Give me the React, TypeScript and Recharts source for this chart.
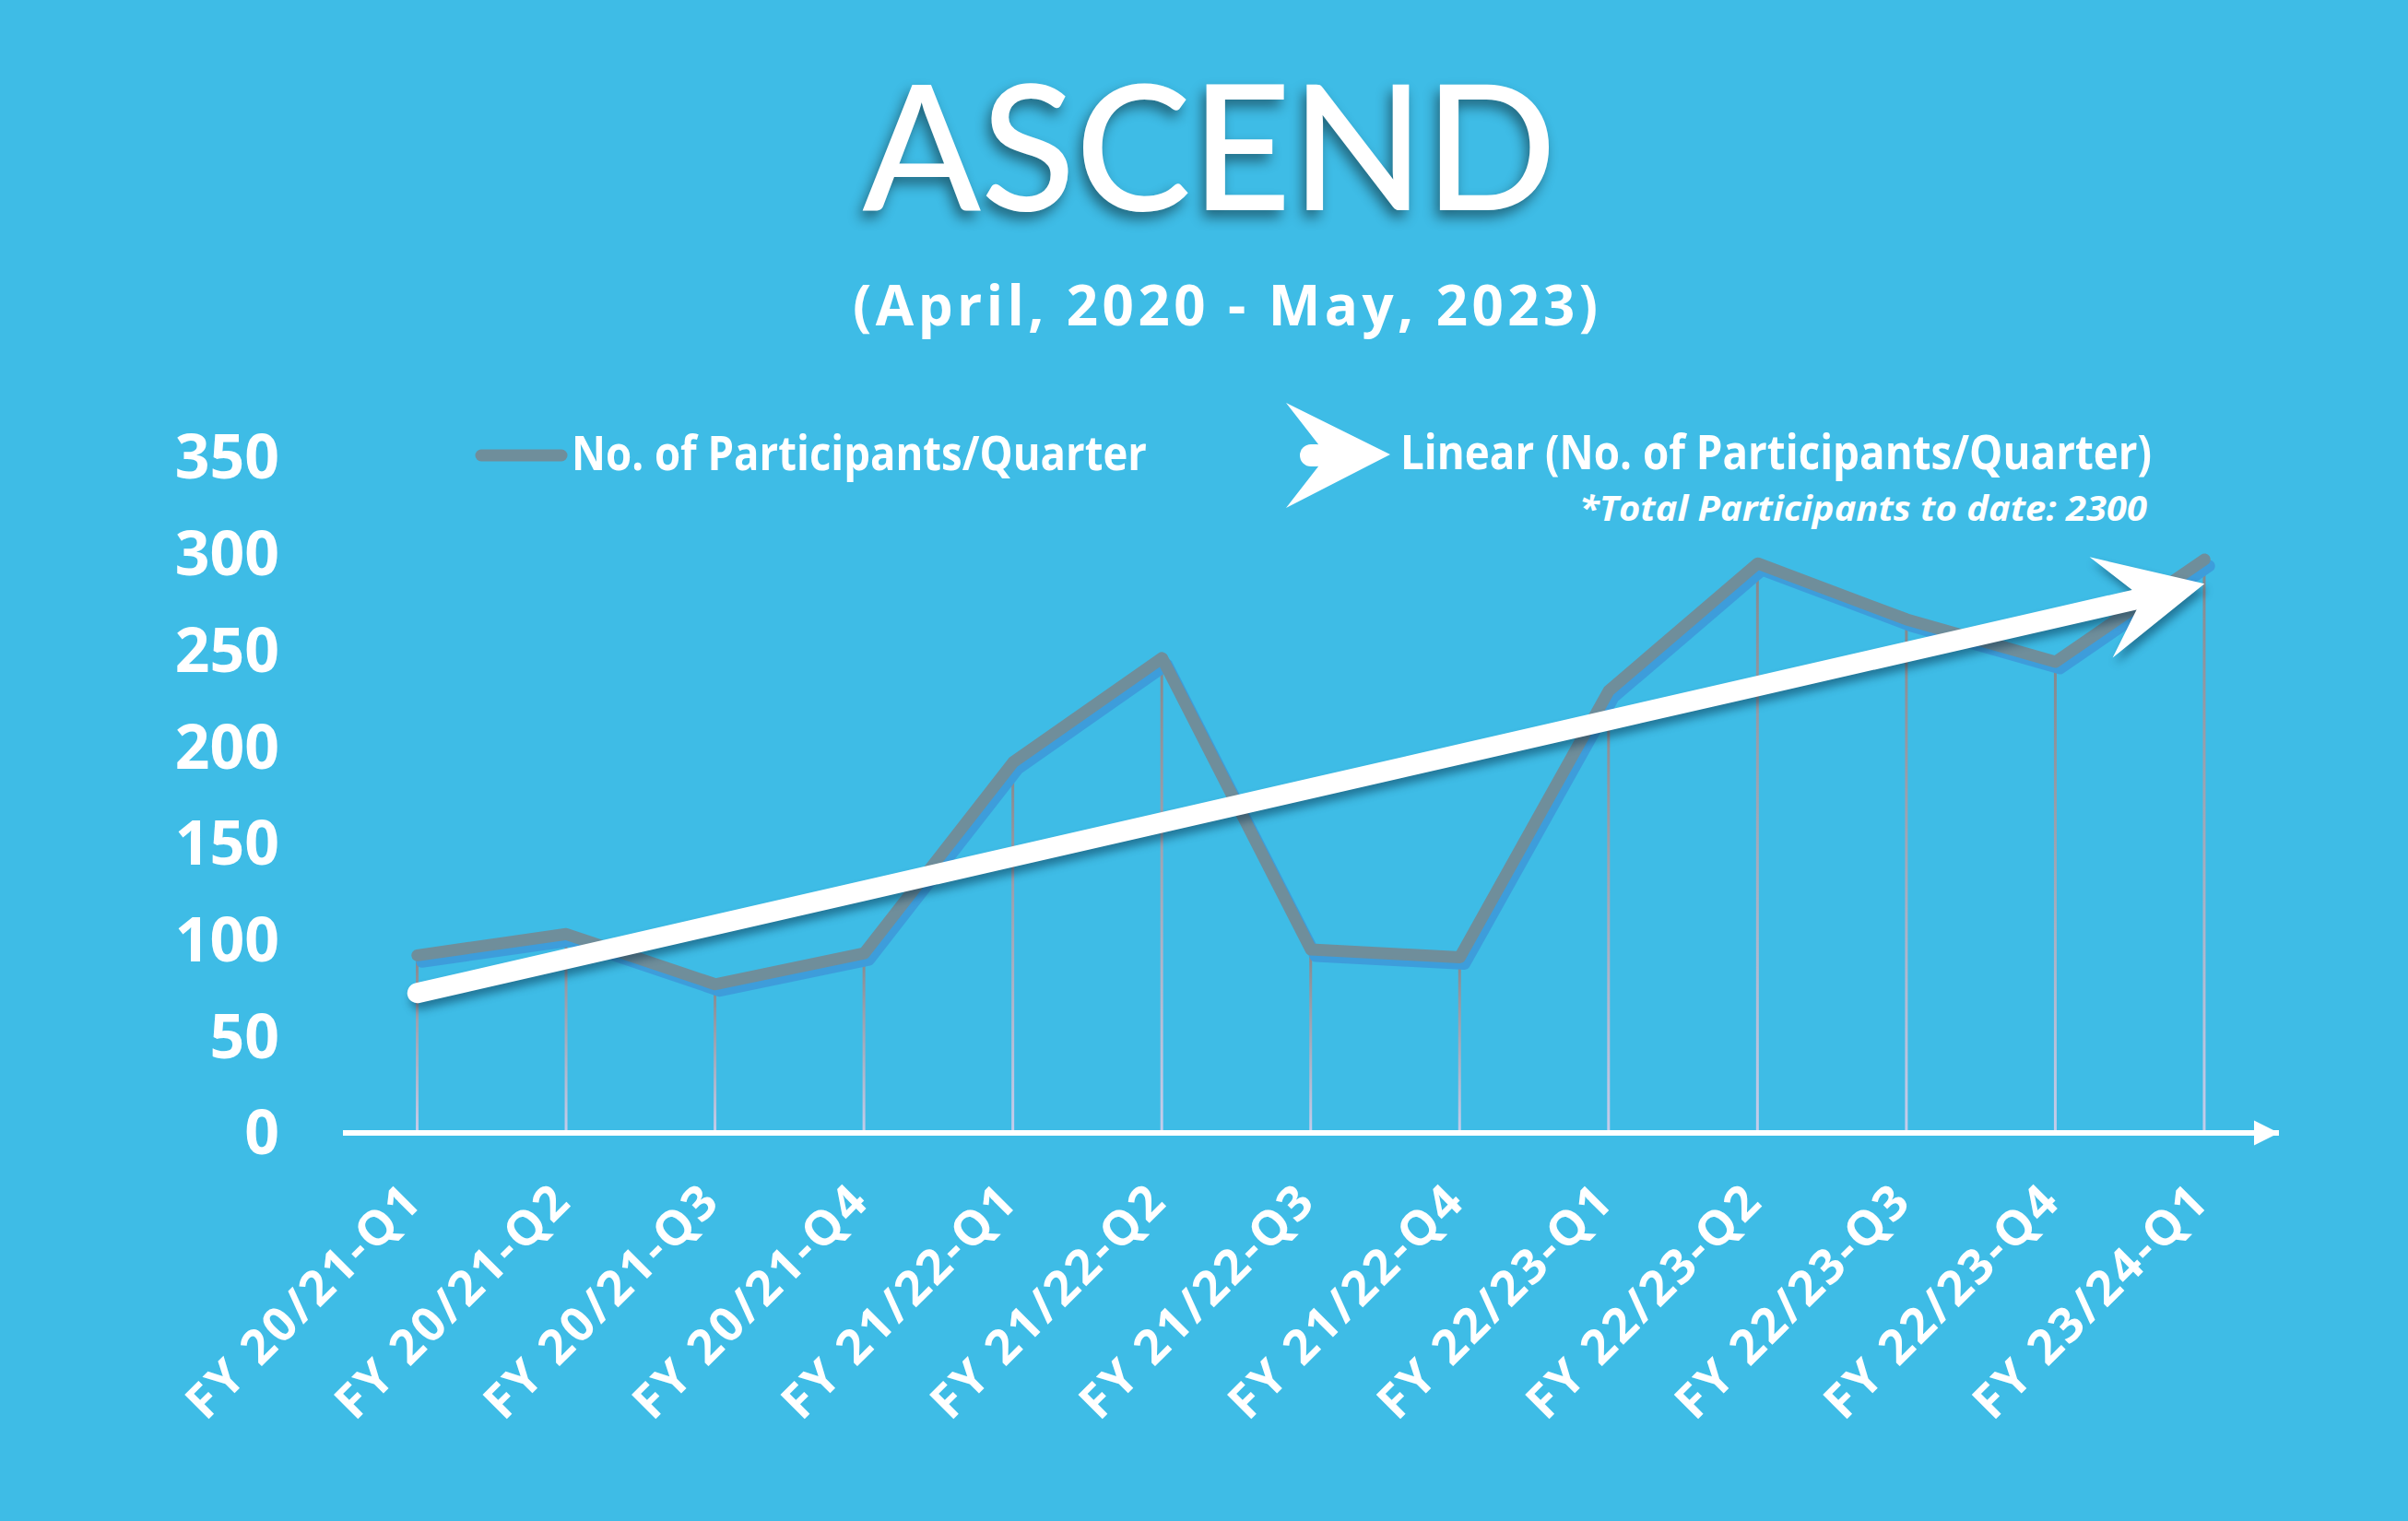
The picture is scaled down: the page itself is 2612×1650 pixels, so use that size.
import React from "react";
import { ComposedChart, Bar, Line, XAxis, YAxis } from "recharts";

const quarters = [
  "FY 20/21-Q1",
  "FY 20/21-Q2",
  "FY 20/21-Q3",
  "FY 20/21-Q4",
  "FY 21/22-Q1",
  "FY 21/22-Q2",
  "FY 21/22-Q3",
  "FY 21/22-Q4",
  "FY 22/23-Q1",
  "FY 22/23-Q2",
  "FY 22/23-Q3",
  "FY 22/23-Q4",
  "FY 23/24-Q1",
];
const participants = [92, 103, 77, 93, 192, 246, 95, 91, 229, 295, 266, 244, 297];
const yTicks = [0, 50, 100, 150, 200, 250, 300, 350];
const seriesNames = ["No. of Participants/Quarter", "Linear (No. of Participants/Quarter)"];
const title = "ASCEND";
const subtitle = "(April, 2020 - May, 2023)";
const note = "*Total Participants to date: 2300";

const BG = "#3ebce6";
const LINE = "#6f8e9b";
const LINE_SHADOW = "#3d9ddb";
const FONT = "'Open Sans', sans-serif";

// least-squares trendline, like the "Linear" trendline of the original
const n = participants.length;
const xMean = (n - 1) / 2;
const yMean = participants.reduce((a, b) => a + b, 0) / n;
const slope =
  participants.reduce((s, y, i) => s + (i - xMean) * (y - yMean), 0) /
  participants.reduce((s, _y, i) => s + (i - xMean) ** 2, 0);

const data = quarters.map((q, i) => ({
  quarter: q,
  participants: participants[i],
  trend: yMean + slope * (i - xMean),
}));

const css = `
.main-line .recharts-line-curve { filter: drop-shadow(5px 7px 0 ${LINE_SHADOW}); }
.trend-line .recharts-line-curve { marker-end: url(#trendHead); filter: drop-shadow(3px 7px 5px rgba(0,35,60,0.45)); }
.recharts-xAxis .recharts-cartesian-axis-line { marker-end: url(#axisHead); }
`;

function XTick({ x, y, payload }: any) {
  const tx = x + 8;
  const ty = y + 76;
  return (
    <text
      x={tx}
      y={ty}
      transform={`rotate(-45 ${tx} ${ty})`}
      textAnchor="end"
      fill="#fff"
      fontFamily={FONT}
      fontWeight={700}
      fontSize={52}
      letterSpacing={3}
    >
      {payload.value}
    </text>
  );
}

export default function App() {
  return (
    <div style={{ position: "absolute", left: 0, top: 0, width: 2612, height: 1650, background: BG, overflow: "hidden" }}>
      <style>{css}</style>
      <ComposedChart
        width={2612}
        height={1650}
        data={data}
        margin={{ top: 496, right: 140, bottom: 121, left: 72 }}
      >
        <XAxis
          dataKey="quarter"
          interval={0}
          height={300}
          tickLine={false}
          tickSize={0}
          tickMargin={0}
          axisLine={{ stroke: "#fff", strokeWidth: 6 }}
          tick={<XTick />}
        />
        <YAxis
          domain={[0, 350]}
          ticks={yTicks}
          width={300}
          axisLine={false}
          tickLine={false}
          tickSize={0}
          tickMargin={69}
          tick={{ fill: "#fff", fontSize: 66, fontWeight: 700, fontFamily: FONT }}
        />
        <Bar dataKey="participants" barSize={3} fill="url(#dropGrad)" isAnimationActive={false} />
        <Line
          className="main-line"
          type="linear"
          dataKey="participants"
          stroke={LINE}
          strokeWidth={13}
          strokeLinecap="round"
          strokeLinejoin="round"
          dot={false}
          activeDot={false}
          isAnimationActive={false}
        />
        <Line
          className="trend-line"
          type="linear"
          dataKey="trend"
          stroke="#fff"
          strokeWidth={22}
          strokeLinecap="round"
          pathLength={1000}
          strokeDasharray="968 1000"
          dot={false}
          activeDot={false}
          isAnimationActive={false}
        />
      </ComposedChart>

      <svg width={2612} height={1650} style={{ position: "absolute", left: 0, top: 0, pointerEvents: "none" }}>
        <defs>
          <linearGradient id="dropGrad" x1="0" y1="0" x2="0" y2="1">
            <stop offset="0%" stopColor="#85878b" />
            <stop offset="100%" stopColor="#c4cdec" />
          </linearGradient>
          <marker id="trendHead" markerUnits="userSpaceOnUse" orient="auto" viewBox="-120 -60 125 120" refX={0} refY={0} markerWidth={125} markerHeight={120} overflow="visible">
            <path d="M0,0 L-115,-56 L-78,-11 L-78,11 L-115,56 Z" fill="#fff" />
          </marker>
          <marker id="axisHead" markerUnits="userSpaceOnUse" orient="auto" viewBox="-30 -15 32 30" refX={0} refY={0} markerWidth={32} markerHeight={30} overflow="visible">
            <path d="M0,0 L-27,-13.5 L-27,13.5 Z" fill="#fff" />
          </marker>
        </defs>

        <text
          x={1312}
          y={228}
          textAnchor="middle"
          fill="#fff"
          fontFamily="Lato, sans-serif"
          fontWeight={500}
          fontSize={190}
          textLength={753}
          lengthAdjust="spacingAndGlyphs"
          style={{ filter: "drop-shadow(-4px 8px 7px rgba(0,0,0,0.45))" }}
        >
          {title}
        </text>
        <text
          x={1329}
          y={353}
          textAnchor="middle"
          fill="#fff"
          fontFamily={FONT}
          fontWeight={700}
          fontSize={60}
          textLength={808}
          lengthAdjust="spacing"
        >
          {subtitle}
        </text>

        {/* legend */}
        <line x1={522} y1={494} x2={609} y2={494} stroke={LINE} strokeWidth={13} strokeLinecap="round" />
        <text x={620} y={510} fill="#fff" fontFamily={FONT} fontWeight={700} fontSize={52} textLength={624} lengthAdjust="spacingAndGlyphs">
          {seriesNames[0]}
        </text>
        <rect x={1410} y={482} width={30} height={24} rx={12} fill="#fff" />
        <path d="M1395,437 L1508,493 L1395,551 L1430,506 L1430,482 Z" fill="#fff" />
        <text x={1519} y={509} fill="#fff" fontFamily={FONT} fontWeight={700} fontSize={52} textLength={815} lengthAdjust="spacingAndGlyphs">
          {seriesNames[1]}
        </text>
        <text
          x={2329}
          y={565}
          textAnchor="end"
          fill="#fff"
          fontFamily={FONT}
          fontWeight={700}
          fontStyle="italic"
          fontSize={37}
          textLength={616}
          lengthAdjust="spacingAndGlyphs"
        >
          {note}
        </text>
      </svg>
    </div>
  );
}
